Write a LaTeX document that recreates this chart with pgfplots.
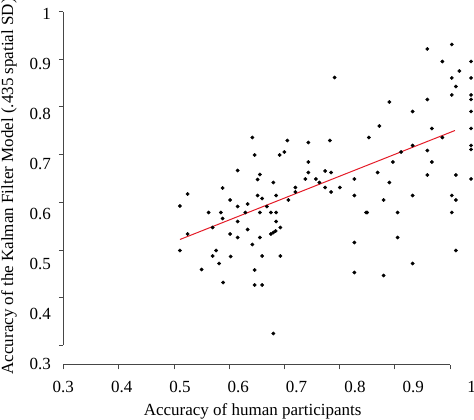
\documentclass[border=0pt]{standalone}
\usepackage{fontspec}
\setmainfont{Liberation Serif}
\usepackage{pgfplots}
\pgfplotsset{compat=1.18}
\usepackage{pgfplotstable}

\pgfplotstableread{
x y
0.500 0.618
0.500 0.529
0.513 0.642
0.513 0.562
0.537 0.491
0.549 0.605
0.556 0.575
0.556 0.518
0.562 0.529
0.567 0.503
0.570 0.605
0.573 0.654
0.573 0.593
0.574 0.465
0.586 0.630
0.586 0.562
0.587 0.517
0.599 0.689
0.599 0.617
0.599 0.587
0.599 0.555
0.612 0.605
0.616 0.622
0.616 0.571
0.624 0.755
0.624 0.541
0.628 0.720
0.628 0.490
0.628 0.460
0.633 0.671
0.633 0.639
0.637 0.681
0.637 0.605
0.637 0.555
0.641 0.633
0.641 0.518
0.641 0.460
0.649 0.617
0.656 0.605
0.656 0.562
0.660 0.665
0.660 0.565
0.660 0.363
0.664 0.568
0.665 0.639
0.665 0.605
0.665 0.587
0.672 0.575
0.671 0.720
0.672 0.518
0.679 0.726
0.684 0.749
0.686 0.630
0.698 0.655
0.698 0.646
0.715 0.672
0.720 0.745
0.720 0.706
0.720 0.685
0.733 0.672
0.739 0.665
0.749 0.688
0.749 0.655
0.757 0.749
0.759 0.646
0.759 0.685
0.765 0.875
0.774 0.655
0.799 0.672
0.799 0.639
0.799 0.545
0.799 0.485
0.819 0.605
0.821 0.605
0.824 0.755
0.839 0.685
0.842 0.778
0.849 0.630
0.849 0.479
0.859 0.826
0.859 0.665
0.865 0.706
0.873 0.605
0.873 0.555
0.879 0.726
0.899 0.807
0.899 0.739
0.899 0.639
0.899 0.503
0.924 0.932
0.924 0.831
0.924 0.729
0.924 0.680
0.932 0.773
0.932 0.706
0.950 0.907
0.950 0.755
0.966 0.941
0.966 0.874
0.966 0.840
0.966 0.639
0.966 0.605
0.973 0.857
0.973 0.680
0.973 0.630
0.973 0.529
0.979 0.888
0.999 0.907
0.999 0.874
0.999 0.840
0.999 0.831
0.999 0.807
0.999 0.773
0.999 0.739
0.999 0.731
0.999 0.672
}\datatable

\definecolor{fitred}{RGB}{228,28,40}
\definecolor{axisgray}{RGB}{70,70,70}

\begin{document}
\begin{tikzpicture}[x=1pt,y=1pt]
\path[use as bounding box] (0,0) rectangle (474,420);
\begin{axis}[
  at={(63.3pt,55pt)}, anchor=south west,
  scale only axis,
  width=408.3pt, height=355pt,
  xmin=0.3, xmax=1.0, ymin=0.3, ymax=1.01,
  clip=false,
  axis line style={draw=none},
  tick pos=left,
  tick align=outside,
  major tick length=0pt,
  font=\fontsize{17}{20}\selectfont,
  xtick={0.3,0.4,0.5,0.6,0.7,0.8,0.9,1.0},
  xticklabels={0.3,0.4,0.5,0.6,0.7,0.8,0.9,1},
  ytick={0.3,0.4,0.5,0.6,0.7,0.8,0.9,1.0},
  yticklabels={0.3,0.4,0.5,0.6,0.7,0.8,0.9,1},
  extra x ticks={0.3,0.395,0.4898,0.5846,0.6784,0.7733,0.8682,0.963},
  extra x tick labels={},
  extra y ticks={0.34,0.4347,0.53,0.6253,0.7213,0.8167,0.9113,1.0066},
  extra y tick labels={},
  extra tick style={major tick length=4.5pt, major tick style={axisgray, line width=0.8pt}},
  xticklabel style={yshift=-13pt},
  yticklabel style={xshift=-9pt, yshift=1.5pt},
]
\draw[axisgray, line width=0.8pt] (axis cs:0.3,0.302) -- (axis cs:0.963,0.302);
\draw[axisgray, line width=0.8pt] (axis cs:0.3,0.34) -- (axis cs:0.3,1.0066);
\addplot[only marks, mark=*, mark size=1.7pt, black] table[x=x,y=y] {\datatable};
\addplot[fitred, line width=1pt] coordinates {(0.500,0.551) (0.9715,0.769)};
\end{axis}
\node[rotate=90, anchor=base west, font=\fontsize{17}{20}\selectfont] at (13pt,42pt) {Accuracy of the Kalman Filter Model (.435 spatial SD)};
\node[anchor=base, font=\fontsize{17}{20}\selectfont] at (252.6pt,4pt) {Accuracy of human participants};
\end{tikzpicture}
\end{document}
